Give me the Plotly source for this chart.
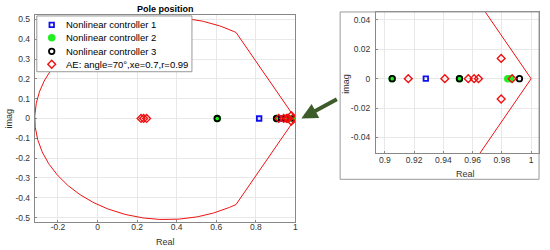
import numpy as np
import plotly.graph_objects as go

# Pole data (real, imag)
c1_re = [0.817, 0.928]
c1_im = [0.0, 0.0]
c2_re = [0.605, 0.905, 0.951, 0.984, 0.986]
c2_im = [0.0, 0.0, 0.0, 0.0, 0.0]
c3_re = [0.605, 0.905, 0.951, 0.992]
c3_im = [0.0, 0.0, 0.0, 0.0]
ae_re = [0.220, 0.233, 0.248, 0.916, 0.941, 0.957, 0.961, 0.964, 0.9795, 0.9795, 0.987]
ae_im = [0.0, 0.0, 0.0, 0.0, 0.0, 0.0, 0.0, 0.0, 0.0138, -0.0138, 0.0]

names = ["Nonlinear controller 1", "Nonlinear controller 2", "Nonlinear controller 3",
         "AE: angle=70°,xe=0.7,r=0.99"]

main_xticks = [-0.2, 0, 0.2, 0.4, 0.6, 0.8, 1]
main_yticks = [-0.5, -0.4, -0.3, -0.2, -0.1, 0, 0.1, 0.2, 0.3, 0.4, 0.5]
ins_xticks = [0.9, 0.92, 0.94, 0.96, 0.98, 1]
ins_yticks = [-0.04, -0.02, 0, 0.02, 0.04]

# Region boundary parameters (ellipse + sector lines)
ell_cx, ell_a, ell_b = 0.35, 0.667, 0.51
xe = 0.7

th0 = np.arccos((xe - ell_cx) / ell_a)
th = np.linspace(th0, 2 * np.pi - th0, 300)
bx = list(ell_cx + ell_a * np.cos(th))
by = list(ell_b * np.sin(th))
yb = ell_b * np.sin(th0)
bnd_x = [1.0, xe] + bx + [xe, 1.0]
bnd_y = [0.0, yb] + by + [-yb, 0.0]

RED = "#ee1111"
styles = [
    dict(symbol="square-open", size=4.5, color="#1010ee", line=dict(width=1.8, color="#1010ee")),
    dict(symbol="circle", size=7.5, color="#22ee22"),
    dict(symbol="circle-open", size=5.5, color="black", line=dict(width=1.8, color="black")),
    dict(symbol="diamond-open", size=6, color=RED, line=dict(width=1.4, color=RED)),
]
series = [(c1_re, c1_im), (c2_re, c2_im), (c3_re, c3_im), (ae_re, ae_im)]
draw_order = [1, 0, 2, 3]

fig = go.Figure()
for xa, ya in [("x", "y"), ("x2", "y2")]:
    fig.add_trace(go.Scatter(x=bnd_x, y=bnd_y, mode="lines", line=dict(color=RED, width=1),
                             showlegend=False, xaxis=xa, yaxis=ya, hoverinfo="skip"))
    for i in draw_order:
        fig.add_trace(go.Scatter(x=series[i][0], y=series[i][1], mode="markers", name=names[i],
                                 showlegend=False, marker=styles[i], xaxis=xa, yaxis=ya))

W, H = 550, 250
font = "Liberation Sans, Arial, sans-serif"
TXT = "#333333"

# manual legend drawn on a pixel overlay axis
lg_x0, lg_x1, lg_y0, lg_y1 = 37, 193, 15, 71
fig.add_trace(go.Scatter(x=[lg_x0, lg_x1, lg_x1, lg_x0, lg_x0], y=[lg_y0, lg_y0, lg_y1, lg_y1, lg_y0],
                         mode="lines", fill="toself", fillcolor="white",
                         line=dict(color="#999999", width=1), showlegend=False,
                         xaxis="x3", yaxis="y3", hoverinfo="skip"))
leg_x, leg_rows = 52, [24, 37, 50.5, 63.5]
for i in range(4):
    fig.add_trace(go.Scatter(x=[leg_x], y=[leg_rows[i]], mode="markers", marker=styles[i],
                             showlegend=False, xaxis="x3", yaxis="y3", hoverinfo="skip"))

axcommon = dict(showgrid=True, gridcolor="#e8e8e8", gridwidth=1, zeroline=False,
                showline=True, linecolor="#888888", linewidth=1, mirror=True,
                ticks="inside", ticklen=2, tickcolor="#888888", ticklabeloverflow="allow",
                tickfont=dict(size=8.5, color=TXT, family=font))

annotations = [
    dict(xref="paper", yref="paper", x=303 / W, y=1 - 118 / H,
         axref="pixel", ayref="pixel", ax=37, ay=-20, text="",
         showarrow=True, arrowhead=2, arrowsize=0.8, arrowwidth=4, arrowcolor="#3e5c2b"),
    dict(xref="paper", yref="paper", x=166 / W, y=1 - 242 / H, text="Real", showarrow=False,
         font=dict(size=9, color=TXT), xanchor="center", yanchor="middle"),
    dict(xref="paper", yref="paper", x=9 / W, y=1 - 118 / H, text="imag", showarrow=False,
         textangle=-90, font=dict(size=9, color=TXT), xanchor="center", yanchor="middle"),
    dict(xref="paper", yref="paper", x=468 / W, y=1 - 174 / H, text="Real", showarrow=False,
         font=dict(size=9, color=TXT), xanchor="center", yanchor="middle"),
    dict(xref="paper", yref="paper", x=348 / W, y=1 - 83 / H, text="imag", showarrow=False,
         textangle=-90, font=dict(size=9, color=TXT), xanchor="center", yanchor="middle"),
    dict(xref="paper", yref="paper", x=166 / W, y=1 - 8 / H, text="<b>Pole position</b>",
         showarrow=False, font=dict(size=9, color="black"), xanchor="center", yanchor="middle"),
]
for i in range(4):
    annotations.append(dict(xref="paper", yref="paper", x=64 / W, y=1 - leg_rows[i] / H,
                            text=names[i], showarrow=False, xanchor="left", yanchor="middle",
                            font=dict(size=9.5, color="black", family=font)))

fig.update_layout(
    width=W, height=H, margin=dict(l=0, r=0, t=0, b=0),
    paper_bgcolor="white", plot_bgcolor="rgba(0,0,0,0)", showlegend=False,
    font=dict(family=font, size=8.5, color=TXT),
    xaxis=dict(domain=[35 / W, 297 / W], range=[-0.317, 1.0], anchor="y",
               tickvals=main_xticks, ticktext=[f"{v:g}" for v in main_xticks],
               ticklabelstandoff=-3, **axcommon),
    yaxis=dict(domain=[1 - 222 / H, 1 - 14.5 / H], range=[-0.523, 0.52], anchor="x",
               tickvals=main_yticks, ticktext=[f"{v:g}" for v in main_yticks],
               ticklabelstandoff=2, **axcommon),
    xaxis2=dict(domain=[378 / W, 542 / W], range=[0.8939, 1.0054], anchor="y2",
                tickvals=ins_xticks, ticktext=[f"{v:g}" for v in ins_xticks],
                ticklabelstandoff=-2, **axcommon),
    yaxis2=dict(domain=[1 - 153 / H, 1 - 11 / H], range=[-0.0508, 0.0454], anchor="x2",
                tickvals=ins_yticks, ticktext=[f"{v:g}" for v in ins_yticks],
                ticklabelstandoff=3, **axcommon),
    xaxis3=dict(domain=[0, 1], range=[0, W], visible=False, anchor="y3", fixedrange=True),
    yaxis3=dict(domain=[0, 1], range=[H, 0], visible=False, anchor="x3", fixedrange=True),
    shapes=[
        dict(type="rect", xref="paper", yref="paper",
             x0=342 / W, x1=542 / W, y0=1 - 179 / H, y1=1 - 11 / H,
             line=dict(color="#999999", width=1), fillcolor="rgba(0,0,0,0)", layer="above"),
    ],
    annotations=annotations,
)

fig.write_html("out.html", config={"displayModeBar": False},
               post_script="document.body.style.margin='0';document.body.style.overflow='hidden';")
